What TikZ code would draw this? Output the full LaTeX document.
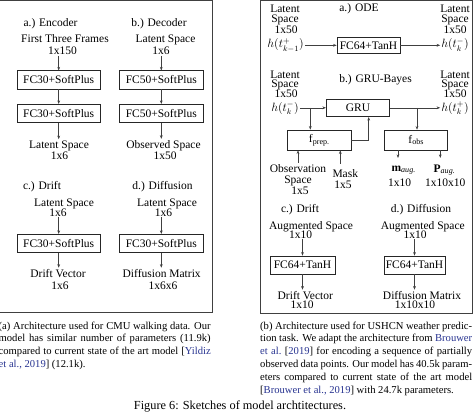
\documentclass[tikz,border=0pt]{standalone}
\usepackage{fontspec}
\setmainfont{Liberation Serif}
\usetikzlibrary{arrows.meta}
\definecolor{citeblue}{RGB}{40,52,145}
\begin{document}
\begin{tikzpicture}[x=1pt,y=-1pt,
  lbl/.style={font=\fontsize{11.5}{12}\selectfont, inner sep=1pt, anchor=base},
  fcbox/.style={draw=black!85, line width=0.7pt, inner sep=0pt, font=\fontsize{11.5}{12}\selectfont},
  arr/.style={draw=black!75, line width=0.55pt, -{Stealth[length=3.6pt,width=2.8pt]}},
  panel/.style={draw=black!75, line width=1pt},
  captext/.style={font=\fontsize{10.6}{12.8}\selectfont, inner sep=0pt, text width=212pt, align=justify, anchor=base west},
]
\fill[white] (0,0) rectangle (474,412);
\useasboundingbox (0,0) rectangle (474,412);

% panels
\draw[panel] (-1.5,1) rectangle (212,312);
\draw[panel] (260,1) rectangle (472,313);

% ---------- left: encoder
\node[lbl] (encT) at (50.5,27) {a.) Encoder};
\node[lbl] (encI1) at (65,43) {First Three Frames};
\node[lbl] (encI2) at (62.5,54.5) {1x150};
\node[fcbox,minimum width=83pt,minimum height=18.3pt] (encB1) at (58.7,80) {FC30+SoftPlus};
\node[fcbox,minimum width=83pt,minimum height=18.3pt] (encB2) at (58.7,113.5) {FC30+SoftPlus};
\node[lbl] (encO1) at (59,148) {Latent Space};
\node[lbl] (encO2) at (59.5,159.5) {1x6};
\draw[arr] (encB1.north |- encI2.south) -- (encB1.north);
\draw[arr] (encB1.south) -- (encB2.north);
\draw[arr] (encB2.south) -- (encB2.south |- encO1.north);

% ---------- left: decoder
\node[lbl] (decT) at (159,27) {b.) Decoder};
\node[lbl] (decI1) at (165.5,43) {Latent Space};
\node[lbl] (decI2) at (161,54.5) {1x6};
\node[fcbox,minimum width=84pt,minimum height=18.3pt] (decB1) at (161.3,80) {FC50+SoftPlus};
\node[fcbox,minimum width=84pt,minimum height=18.3pt] (decB2) at (161.3,113.5) {FC50+SoftPlus};
\node[lbl] (decO1) at (163.5,148) {Observed Space};
\node[lbl] (decO2) at (165,159.5) {1x50};
\draw[arr] (decB1.north |- decI2.south) -- (decB1.north);
\draw[arr] (decB1.south) -- (decB2.north);
\draw[arr] (decB2.south) -- (decB2.south |- decO1.north);

% ---------- left: drift
\node[lbl] (drT) at (42,189) {c.) Drift};
\node[lbl] (drI1) at (64,206) {Latent Space};
\node[lbl] (drI2) at (58,216) {1x6};
\node[fcbox,minimum width=83pt,minimum height=18pt] (drB) at (58.7,243.3) {FC30+SoftPlus};
\node[lbl] (drO1) at (58,277) {Drift Vector};
\node[lbl] (drO2) at (60,289) {1x6};
\draw[arr] (drB.north |- drI2.south) -- (drB.north);
\draw[arr] (drB.south) -- (drB.south |- drO1.north);

% ---------- left: diffusion
\node[lbl] (dfT) at (162.5,189) {d.) Diffusion};
\node[lbl] (dfI1) at (167,206) {Latent Space};
\node[lbl] (dfI2) at (163.5,216) {1x6};
\node[fcbox,minimum width=84pt,minimum height=18pt] (dfB) at (161.3,243.3) {FC30+SoftPlus};
\node[lbl] (dfO1) at (161.7,277) {Diffusion Matrix};
\node[lbl] (dfO2) at (163,289) {1x6x6};
\draw[arr] (dfB.north |- dfI2.south) -- (dfB.north);
\draw[arr] (dfB.south) -- (dfB.south |- dfO1.north);

% ---------- right: ODE
\node[lbl] (odeT) at (359,12) {a.) ODE};
\node[lbl] (oiL1) at (285,13) {Latent};
\node[lbl] (oiL2) at (285,23) {Space};
\node[lbl] (oiL3) at (286,34) {1x50};
\node[lbl] (odeIn) at (285.5,48) {$h(t^+_{k-1})$};
\node[fcbox,minimum width=63pt,minimum height=16pt] (odeB) at (368.5,45.3) {FC64+TanH};
\node[lbl] (ooL1) at (455,13) {Latent};
\node[lbl] (ooL2) at (455,23) {Space};
\node[lbl] (ooL3) at (455,34) {1x50};
\node[lbl] (odeOut) at (455,48) {$h(t^-_k)$};
\draw[arr] (odeIn.east |- odeB.west) -- (odeB.west);
\draw[arr] (odeB.east) -- (odeOut.west |- odeB.east);

% ---------- right: GRU-Bayes
\node[lbl] (gruT) at (375.5,83) {b.) GRU-Bayes};
\node[lbl] (giL1) at (285,78) {Latent};
\node[lbl] (giL2) at (285,88) {Space};
\node[lbl] (giL3) at (286,98) {1x50};
\node[lbl] (gruIn) at (285,111.5) {$h(t^-_k)$};
\node[fcbox,minimum width=63.4pt,minimum height=17.7pt] (gruB) at (358,107.8) {GRU};
\node[lbl] (goL1) at (455,78) {Latent};
\node[lbl] (goL2) at (455,88) {Space};
\node[lbl] (goL3) at (455,98) {1x50};
\node[lbl] (gruOut) at (455,111.5) {$h(t^+_k)$};
\node[fcbox,minimum width=63.3pt,minimum height=20pt] (fprep) at (319.3,140) {f\textsubscript{prep.}};
\node[fcbox,minimum width=63pt,minimum height=20pt] (fobs) at (416.2,140) {f\textsubscript{obs}};
\coordinate (br1) at (310.3,107.8);
\coordinate (br2) at (417,107.8);
\draw[arr] (gruIn.east |- gruB.west) -- (gruB.west);
\draw[arr] (br1) -- (br1 |- fprep.north);
\draw[arr] (fprep.east) -| ([xshift=10.7pt]gruB.south);
\draw[arr] (gruB.east) -- (gruOut.west |- gruB.east);
\draw[arr] (br2) -- (br2 |- fobs.north);

\node[lbl] (obs1) at (298,172) {Observation};
\node[lbl] (obs2) at (298,183) {Space};
\node[lbl] (obs3) at (300,194.5) {1x5};
\node[lbl] (mask1) at (345.3,177) {Mask};
\node[lbl] (mask2) at (343,188) {1x5};
\coordinate (inM) at (340.3,163.5);
\draw[arr] (obs1.north) -- (obs1.north |- fprep.south);
\draw[arr] (inM) -- (inM |- fprep.south);

\node[lbl] (maug1) at (403.7,171) {\textbf{m}\textsubscript{\textit{aug.}}};
\node[lbl] (maug2) at (399.5,186) {1x10};
\node[lbl] (paug1) at (444.5,172) {\textbf{P}\textsubscript{\textit{aug.}}};
\node[lbl] (paug2) at (445.3,186) {1x10x10};
\coordinate (outM) at (398,158);
\coordinate (outP) at (440.3,158);
\draw[arr] (outM |- fobs.south) -- (outM);
\draw[arr] (outP |- fobs.south) -- (outP);

% ---------- right: drift
\node[lbl] (rdrT) at (300,212) {c.) Drift};
\node[lbl] (rdrI1) at (311,229) {Augmented Space};
\node[lbl] (rdrI2) at (300.5,238) {1x10};
\node[fcbox,minimum width=65pt,minimum height=18pt] (rdrB) at (302.5,265) {FC64+TanH};
\node[lbl] (rdrO1) at (305.3,299) {Drift Vector};
\node[lbl] (rdrO2) at (302,308) {1x10};
\draw[arr] (rdrB.north |- rdrI2.south) -- (rdrB.north);
\draw[arr] (rdrB.south) -- (rdrB.south |- rdrO1.north);

% ---------- right: diffusion
\node[lbl] (rdfT) at (421,212) {d.) Diffusion};
\node[lbl] (rdfI1) at (422.8,229) {Augmented Space};
\node[lbl] (rdfI2) at (415,238) {1x10};
\node[fcbox,minimum width=61pt,minimum height=18pt] (rdfB) at (414.5,265) {FC64+TanH};
\node[lbl] (rdfO1) at (422,299) {Diffusion Matrix};
\node[lbl] (rdfO2) at (415,308) {1x10x10};
\draw[arr] (rdfB.north |- rdfI2.south) -- (rdfB.north);
\draw[arr] (rdfB.south) -- (rdfB.south |- rdfO1.north);

% ---------- captions
\node[captext] (capA) at (-1.5,329) {\tolerance=9999\emergencystretch=8pt
(a) Architecture used for CMU walking data. Our\linebreak{}
model has similar number of parameters (11.9k)\linebreak{}
compared to current state of the art model [\textcolor{citeblue}{Yildiz}\linebreak{}
\textcolor{citeblue}{et al., 2019}] (12.1k).};
\node[captext] (capB) at (260,329) {\tolerance=9999\emergencystretch=8pt
(b) Architecture used for USHCN weather predic-\linebreak{}
tion task. We adapt the architecture from \textcolor{citeblue}{Brouwer}\linebreak{}
\textcolor{citeblue}{et al.}\ [\textcolor{citeblue}{2019}] for encoding a sequence of partially\linebreak{}
observed data points. Our model has 40.5k param-\linebreak{}
eters compared to current state of the art model\linebreak{}
{[}\textcolor{citeblue}{Brouwer et al.,\ 2019}] with 24.7k parameters.};
\node[font=\fontsize{12.3}{14}\selectfont, inner sep=0pt, anchor=base] (figcap) at (240,409.5) {Figure 6: Sketches of model archtitectures.};
\end{tikzpicture}
\end{document}
